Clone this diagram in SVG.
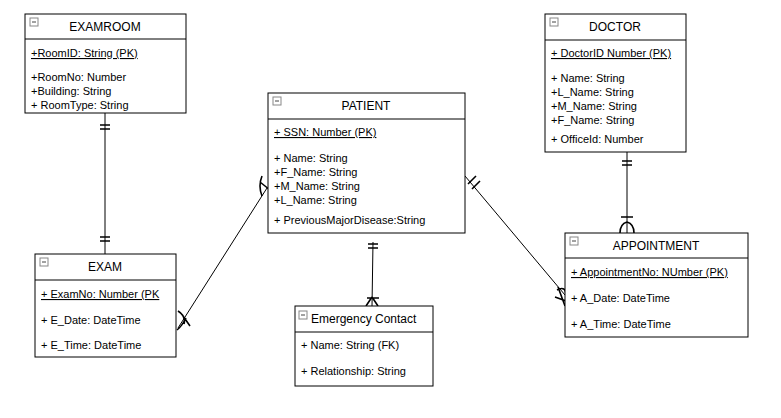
<svg xmlns="http://www.w3.org/2000/svg" width="781" height="418" viewBox="0 0 781 418">
<style>
.box{fill:#fff;stroke:#000;stroke-width:1}
.sep{stroke:#000;stroke-width:1}
.t{font-family:"Liberation Sans",Arial,sans-serif;font-size:11px;fill:#000}
.h{font-family:"Liberation Sans",Arial,sans-serif;font-size:12px;fill:#000;text-anchor:middle}
.u{text-decoration:underline}
.mk{fill:#fff;stroke:#888;stroke-width:1}
.c{stroke:#000;stroke-width:1;fill:none}
.m{stroke:#000;stroke-width:1.6;fill:none}
</style>
<defs>
<g id="minus"><rect class="mk" x="0" y="0" width="8" height="8"/><line x1="2" y1="4" x2="6" y2="4" stroke="#444"/></g>
</defs>
<g id="connectors">
<line class="c" x1="105" y1="113" x2="105" y2="254"/>
<path class="m" d="M100 125H110M100 129H110M100 237H110M100 241H110"/>
<line class="c" x1="373" y1="242" x2="372" y2="306"/>
<path class="m" d="M368 244H378M368 248H378M367 298H379M372 297L366 306M372 297L378 306"/>
<line class="c" x1="627" y1="152" x2="627" y2="233"/>
<path class="m" d="M622 161H632M622 165H632M621 217H633M627 222Q620 224 620 233M627 222Q634 224 634 233"/>
<line class="c" x1="178" y1="328" x2="267" y2="188"/>
<path class="m" d="M262 176Q258 186 262 196M260 182L270 190M178 311Q186 316 184 324M183 316L190 326M177 330Q182 326 186 318"/>
<line class="c" x1="465" y1="176" x2="565" y2="295"/>
<path class="m" d="M468 184L476 176M472 189L480 181M557 290Q566 285 566 296M555 297L566 301M558 287L565 306"/>
</g>
<g id="examroom">
<rect class="box" x="25" y="14" width="161" height="99"/>
<line class="sep" x1="25" y1="39" x2="186" y2="39"/>
<use href="#minus" x="30" y="18"/>
<text class="h" x="105" y="31">EXAMROOM</text>
<text class="t u" x="31" y="57">+RoomID: String (PK)</text>
<text class="t" x="31" y="81">+RoomNo: Number</text>
<text class="t" x="31" y="95">+Building: String</text>
<text class="t" x="31" y="109">+ RoomType: String</text>
</g>
<g id="patient">
<rect class="box" x="268" y="93" width="197" height="140"/>
<line class="sep" x1="268" y1="119" x2="465" y2="119"/>
<use href="#minus" x="273" y="97"/>
<text class="h" x="366" y="110">PATIENT</text>
<text class="t u" x="274" y="136">+ SSN: Number (PK)</text>
<text class="t" x="274" y="162">+ Name: String</text>
<text class="t" x="274" y="176">+F_Name: String</text>
<text class="t" x="274" y="190">+M_Name: String</text>
<text class="t" x="274" y="204">+L_Name: String</text>
<text class="t" x="274" y="224">+ PreviousMajorDisease:String</text>
</g>
<g id="doctor">
<rect class="box" x="545" y="14" width="141" height="138"/>
<line class="sep" x1="545" y1="40" x2="686" y2="40"/>
<use href="#minus" x="550" y="18"/>
<text class="h" x="615" y="31">DOCTOR</text>
<text class="t u" x="551" y="57">+ DoctorID Number (PK)</text>
<text class="t" x="551" y="82">+ Name: String</text>
<text class="t" x="551" y="96">+L_Name: String</text>
<text class="t" x="551" y="110">+M_Name: String</text>
<text class="t" x="551" y="124">+F_Name: String</text>
<text class="t" x="551" y="143">+ OfficeId: Number</text>
</g>
<g id="appointment">
<rect class="box" x="565" y="233" width="183" height="104"/>
<line class="sep" x1="565" y1="258" x2="748" y2="258"/>
<use href="#minus" x="570" y="237"/>
<text class="h" x="656" y="250">APPOINTMENT</text>
<text class="t u" x="571" y="276">+ AppointmentNo: NUmber (PK)</text>
<text class="t" x="571" y="302">+ A_Date: DateTime</text>
<text class="t" x="571" y="328">+ A_Time: DateTime</text>
</g>
<g id="exam">
<rect class="box" x="35" y="254" width="141" height="103"/>
<line class="sep" x1="35" y1="280" x2="176" y2="280"/>
<use href="#minus" x="40" y="258"/>
<text class="h" x="105" y="271">EXAM</text>
<text class="t u" x="41" y="298">+ ExamNo: Number (PK</text>
<text class="t" x="41" y="324">+ E_Date: DateTime</text>
<text class="t" x="41" y="349">+ E_Time: DateTime</text>
</g>
<g id="emergency">
<rect class="box" x="295" y="306" width="138" height="80"/>
<line class="sep" x1="295" y1="332" x2="433" y2="332"/>
<use href="#minus" x="299" y="311"/>
<text class="t" x="311" y="323" style="font-size:12px">Emergency Contact</text>
<text class="t" x="301" y="349">+ Name: String (FK)</text>
<text class="t" x="301" y="375">+ Relationship: String</text>
</g>
</svg>
